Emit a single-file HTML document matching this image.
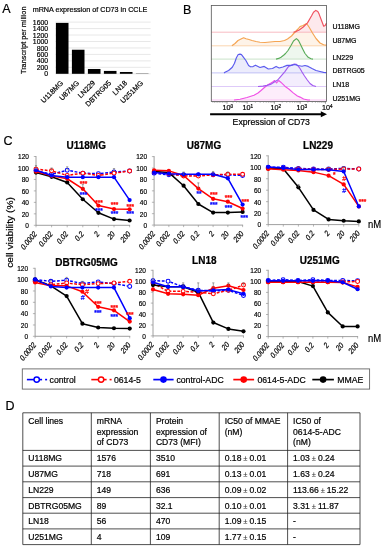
<!DOCTYPE html>
<html><head><meta charset="utf-8"><style>
html,body{margin:0;padding:0;background:#fff;}
svg{display:block;font-family:"Liberation Sans", sans-serif;filter:blur(0.4px);}
text{stroke:#000;stroke-width:0.2px;}
</style></head><body>
<svg width="385" height="550" viewBox="0 0 385 550">
<rect width="385" height="550" fill="#fff"/>
<text x="2.30" y="12.90" font-size="12.5" text-anchor="start" font-weight="normal" fill="#000" >A</text>
<text x="32.70" y="11.60" font-size="7.2" text-anchor="start" font-weight="normal" fill="#000" >mRNA expression of CD73 in CCLE</text>
<text transform="translate(25.70,74.00) rotate(-90)" font-size="7.3" text-anchor="start" fill="#000" font-weight="normal">Transcript per million</text>
<text transform="translate(48.1,76.40) scale(0.93,1)" font-size="7.4" text-anchor="end">0</text>
<line x1="55.40" y1="67.34" x2="150.60" y2="67.34" stroke="#d9d9d9" stroke-width="0.6" />
<text transform="translate(48.1,69.94) scale(0.93,1)" font-size="7.4" text-anchor="end">200</text>
<line x1="55.40" y1="60.88" x2="150.60" y2="60.88" stroke="#d9d9d9" stroke-width="0.6" />
<text transform="translate(48.1,63.48) scale(0.93,1)" font-size="7.4" text-anchor="end">400</text>
<line x1="55.40" y1="54.42" x2="150.60" y2="54.42" stroke="#d9d9d9" stroke-width="0.6" />
<text transform="translate(48.1,57.02) scale(0.93,1)" font-size="7.4" text-anchor="end">600</text>
<line x1="55.40" y1="47.96" x2="150.60" y2="47.96" stroke="#d9d9d9" stroke-width="0.6" />
<text transform="translate(48.1,50.56) scale(0.93,1)" font-size="7.4" text-anchor="end">800</text>
<line x1="55.40" y1="41.50" x2="150.60" y2="41.50" stroke="#d9d9d9" stroke-width="0.6" />
<text transform="translate(48.1,44.10) scale(0.93,1)" font-size="7.4" text-anchor="end">1000</text>
<line x1="55.40" y1="35.04" x2="150.60" y2="35.04" stroke="#d9d9d9" stroke-width="0.6" />
<text transform="translate(48.1,37.64) scale(0.93,1)" font-size="7.4" text-anchor="end">1200</text>
<line x1="55.40" y1="28.58" x2="150.60" y2="28.58" stroke="#d9d9d9" stroke-width="0.6" />
<text transform="translate(48.1,31.18) scale(0.93,1)" font-size="7.4" text-anchor="end">1400</text>
<line x1="55.40" y1="22.12" x2="150.60" y2="22.12" stroke="#d9d9d9" stroke-width="0.6" />
<text transform="translate(48.1,24.72) scale(0.93,1)" font-size="7.4" text-anchor="end">1600</text>
<line x1="55.40" y1="73.80" x2="150.60" y2="73.80" stroke="#d9d9d9" stroke-width="0.6" />
<rect x="55.90" y="22.90" width="12.6" height="50.90" fill="#000"/>
<text transform="translate(63.70,83.50) rotate(-45)" font-size="7.2" text-anchor="end" fill="#000" font-weight="normal">U118MG</text>
<rect x="71.90" y="49.74" width="12.6" height="24.06" fill="#000"/>
<text transform="translate(79.70,83.50) rotate(-45)" font-size="7.2" text-anchor="end" fill="#000" font-weight="normal">U87MG</text>
<rect x="87.90" y="68.99" width="12.6" height="4.81" fill="#000"/>
<text transform="translate(95.70,83.50) rotate(-45)" font-size="7.2" text-anchor="end" fill="#000" font-weight="normal">LN229</text>
<rect x="103.90" y="70.93" width="12.6" height="2.87" fill="#000"/>
<text transform="translate(111.70,83.50) rotate(-45)" font-size="7.2" text-anchor="end" fill="#000" font-weight="normal">DBTRG05</text>
<rect x="119.90" y="71.99" width="12.6" height="1.81" fill="#000"/>
<text transform="translate(127.70,83.50) rotate(-45)" font-size="7.2" text-anchor="end" fill="#000" font-weight="normal">LN18</text>
<rect x="135.90" y="73.20" width="12.6" height="0.60" fill="#888"/>
<text transform="translate(143.70,83.50) rotate(-45)" font-size="7.2" text-anchor="end" fill="#000" font-weight="normal">U251MG</text>
<text x="183.00" y="13.60" font-size="12.5" text-anchor="start" font-weight="normal" fill="#000" >B</text>
<path d="M234.00,100.00 L234.00,100.00 L240.00,99.30 L247.00,97.50 L254.00,95.20 L258.00,93.00 L261.00,90.50 L265.00,87.00 L268.00,84.70 L271.00,83.00 L273.50,81.50 L274.50,80.50 L276.60,83.00 L278.70,80.50 L280.80,82.20 L284.90,86.20 L289.10,89.30 L293.20,92.90 L297.40,96.00 L300.00,97.10 L303.60,99.00 L308.00,100.00 L310.00,100.00 L310.00,100.00 Z" fill="#fdedfb" stroke="none"/>
<path d="M258.00,86.50 L258.00,86.50 L263.00,86.10 L267.00,85.40 L270.50,84.40 L274.00,82.30 L277.70,80.00 L280.80,76.30 L284.90,71.60 L288.60,66.40 L291.20,65.40 L294.30,64.10 L296.40,64.40 L298.40,66.40 L300.00,68.50 L302.00,72.00 L304.50,76.00 L307.30,80.00 L310.00,83.50 L312.70,85.50 L316.00,86.50 L316.00,86.50 Z" fill="#f3edfd" stroke="none"/>
<path d="M224.00,72.90 L224.00,72.90 L225.00,72.30 L228.60,70.50 L232.30,67.30 L234.50,63.20 L236.40,57.70 L238.20,54.50 L240.00,54.10 L241.50,54.60 L243.20,56.80 L245.90,60.50 L248.60,65.50 L250.50,66.80 L253.00,66.60 L255.50,65.20 L257.50,66.20 L260.00,67.50 L264.20,66.40 L268.30,69.00 L272.50,68.50 L276.10,66.40 L279.20,68.00 L282.90,67.00 L287.00,65.40 L291.20,65.40 L294.50,64.50 L298.00,65.50 L302.00,66.20 L305.00,65.50 L308.20,66.40 L312.00,68.50 L316.00,70.50 L320.00,71.50 L323.60,72.40 L326.50,72.60 L326.50,72.90 Z" fill="#ececfc" stroke="none"/>
<path d="M276.00,59.10 L276.00,59.10 L278.70,58.40 L281.00,57.20 L283.90,55.00 L285.50,53.50 L288.00,50.50 L291.00,45.50 L293.50,41.00 L296.40,38.60 L298.50,40.50 L300.50,44.50 L302.70,49.00 L305.00,53.50 L308.20,57.30 L311.00,58.70 L313.00,59.10 L313.00,59.10 Z" fill="#eef7ee" stroke="none"/>
<path d="M231.90,45.80 L231.90,45.80 L235.00,43.50 L238.00,40.50 L241.00,39.00 L243.60,37.80 L246.00,38.80 L249.00,39.50 L252.00,40.50 L256.00,41.50 L260.00,42.20 L265.00,42.50 L270.00,42.00 L275.00,41.50 L280.00,41.50 L284.50,40.50 L287.50,39.00 L291.50,36.00 L295.00,32.00 L298.00,29.00 L300.00,26.60 L303.00,25.50 L306.60,23.50 L309.00,27.00 L312.50,33.00 L316.00,38.50 L320.00,43.00 L323.60,44.80 L326.50,45.30 L326.50,45.80 Z" fill="#fef3e8" stroke="none"/>
<path d="M293.50,32.20 L293.50,32.20 L296.00,31.60 L299.20,30.00 L303.30,27.00 L307.50,22.90 L311.60,15.80 L313.50,12.20 L315.80,10.40 L317.80,11.50 L319.10,14.10 L321.60,20.80 L323.70,26.20 L325.20,25.50 L326.50,23.00 L326.50,32.20 Z" fill="#fde9ec" stroke="none"/>
<line x1="211.3" y1="100.0" x2="326.5" y2="100.0" stroke="#f6b4f0" stroke-width="0.8"/>
<line x1="211.3" y1="86.5" x2="326.5" y2="86.5" stroke="#d6bcf8" stroke-width="0.8"/>
<line x1="211.3" y1="72.9" x2="326.5" y2="72.9" stroke="#b4b4f4" stroke-width="0.8"/>
<line x1="211.3" y1="59.1" x2="326.5" y2="59.1" stroke="#bcdcbc" stroke-width="0.8"/>
<line x1="211.3" y1="45.8" x2="326.5" y2="45.8" stroke="#f9cc9c" stroke-width="0.8"/>
<line x1="211.3" y1="32.2" x2="326.5" y2="32.2" stroke="#f6aab2" stroke-width="0.8"/>
<path d="M234.00,100.00 L240.00,99.30 L247.00,97.50 L254.00,95.20 L258.00,93.00 L261.00,90.50 L265.00,87.00 L268.00,84.70 L271.00,83.00 L273.50,81.50 L274.50,80.50 L276.60,83.00 L278.70,80.50 L280.80,82.20 L284.90,86.20 L289.10,89.30 L293.20,92.90 L297.40,96.00 L300.00,97.10 L303.60,99.00 L308.00,100.00 L310.00,100.00" fill="none" stroke="#f050e6" stroke-width="1.15" stroke-linejoin="round"/>
<path d="M258.00,86.50 L263.00,86.10 L267.00,85.40 L270.50,84.40 L274.00,82.30 L277.70,80.00 L280.80,76.30 L284.90,71.60 L288.60,66.40 L291.20,65.40 L294.30,64.10 L296.40,64.40 L298.40,66.40 L300.00,68.50 L302.00,72.00 L304.50,76.00 L307.30,80.00 L310.00,83.50 L312.70,85.50 L316.00,86.50" fill="none" stroke="#a25af0" stroke-width="1.15" stroke-linejoin="round"/>
<path d="M224.00,72.90 L225.00,72.30 L228.60,70.50 L232.30,67.30 L234.50,63.20 L236.40,57.70 L238.20,54.50 L240.00,54.10 L241.50,54.60 L243.20,56.80 L245.90,60.50 L248.60,65.50 L250.50,66.80 L253.00,66.60 L255.50,65.20 L257.50,66.20 L260.00,67.50 L264.20,66.40 L268.30,69.00 L272.50,68.50 L276.10,66.40 L279.20,68.00 L282.90,67.00 L287.00,65.40 L291.20,65.40 L294.50,64.50 L298.00,65.50 L302.00,66.20 L305.00,65.50 L308.20,66.40 L312.00,68.50 L316.00,70.50 L320.00,71.50 L323.60,72.40 L326.50,72.60" fill="none" stroke="#5a5aee" stroke-width="1.15" stroke-linejoin="round"/>
<path d="M276.00,59.10 L278.70,58.40 L281.00,57.20 L283.90,55.00 L285.50,53.50 L288.00,50.50 L291.00,45.50 L293.50,41.00 L296.40,38.60 L298.50,40.50 L300.50,44.50 L302.70,49.00 L305.00,53.50 L308.20,57.30 L311.00,58.70 L313.00,59.10" fill="none" stroke="#5aac5a" stroke-width="1.15" stroke-linejoin="round"/>
<path d="M231.90,45.80 L235.00,43.50 L238.00,40.50 L241.00,39.00 L243.60,37.80 L246.00,38.80 L249.00,39.50 L252.00,40.50 L256.00,41.50 L260.00,42.20 L265.00,42.50 L270.00,42.00 L275.00,41.50 L280.00,41.50 L284.50,40.50 L287.50,39.00 L291.50,36.00 L295.00,32.00 L298.00,29.00 L300.00,26.60 L303.00,25.50 L306.60,23.50 L309.00,27.00 L312.50,33.00 L316.00,38.50 L320.00,43.00 L323.60,44.80 L326.50,45.30" fill="none" stroke="#f5a452" stroke-width="1.15" stroke-linejoin="round"/>
<path d="M293.50,32.20 L296.00,31.60 L299.20,30.00 L303.30,27.00 L307.50,22.90 L311.60,15.80 L313.50,12.20 L315.80,10.40 L317.80,11.50 L319.10,14.10 L321.60,20.80 L323.70,26.20 L325.20,25.50 L326.50,23.00" fill="none" stroke="#f0505e" stroke-width="1.15" stroke-linejoin="round"/>
<rect x="211.3" y="5.4" width="115.20" height="96.10" fill="none" stroke="#555" stroke-width="0.8"/>
<line x1="227.00" y1="101.50" x2="227.00" y2="103.70" stroke="#555" stroke-width="0.6" />
<line x1="233.08" y1="101.50" x2="233.08" y2="102.80" stroke="#777" stroke-width="0.5" />
<line x1="236.64" y1="101.50" x2="236.64" y2="102.80" stroke="#777" stroke-width="0.5" />
<line x1="239.16" y1="101.50" x2="239.16" y2="102.80" stroke="#777" stroke-width="0.5" />
<line x1="241.12" y1="101.50" x2="241.12" y2="102.80" stroke="#777" stroke-width="0.5" />
<line x1="242.72" y1="101.50" x2="242.72" y2="102.80" stroke="#777" stroke-width="0.5" />
<line x1="244.07" y1="101.50" x2="244.07" y2="102.80" stroke="#777" stroke-width="0.5" />
<line x1="245.24" y1="101.50" x2="245.24" y2="102.80" stroke="#777" stroke-width="0.5" />
<line x1="246.28" y1="101.50" x2="246.28" y2="102.80" stroke="#777" stroke-width="0.5" />
<line x1="247.20" y1="101.50" x2="247.20" y2="103.70" stroke="#555" stroke-width="0.6" />
<line x1="255.39" y1="101.50" x2="255.39" y2="102.80" stroke="#777" stroke-width="0.5" />
<line x1="260.18" y1="101.50" x2="260.18" y2="102.80" stroke="#777" stroke-width="0.5" />
<line x1="263.58" y1="101.50" x2="263.58" y2="102.80" stroke="#777" stroke-width="0.5" />
<line x1="266.21" y1="101.50" x2="266.21" y2="102.80" stroke="#777" stroke-width="0.5" />
<line x1="268.37" y1="101.50" x2="268.37" y2="102.80" stroke="#777" stroke-width="0.5" />
<line x1="270.19" y1="101.50" x2="270.19" y2="102.80" stroke="#777" stroke-width="0.5" />
<line x1="271.76" y1="101.50" x2="271.76" y2="102.80" stroke="#777" stroke-width="0.5" />
<line x1="273.16" y1="101.50" x2="273.16" y2="102.80" stroke="#777" stroke-width="0.5" />
<line x1="274.40" y1="101.50" x2="274.40" y2="103.70" stroke="#555" stroke-width="0.6" />
<line x1="282.17" y1="101.50" x2="282.17" y2="102.80" stroke="#777" stroke-width="0.5" />
<line x1="286.71" y1="101.50" x2="286.71" y2="102.80" stroke="#777" stroke-width="0.5" />
<line x1="289.93" y1="101.50" x2="289.93" y2="102.80" stroke="#777" stroke-width="0.5" />
<line x1="292.43" y1="101.50" x2="292.43" y2="102.80" stroke="#777" stroke-width="0.5" />
<line x1="294.48" y1="101.50" x2="294.48" y2="102.80" stroke="#777" stroke-width="0.5" />
<line x1="296.20" y1="101.50" x2="296.20" y2="102.80" stroke="#777" stroke-width="0.5" />
<line x1="297.70" y1="101.50" x2="297.70" y2="102.80" stroke="#777" stroke-width="0.5" />
<line x1="299.02" y1="101.50" x2="299.02" y2="102.80" stroke="#777" stroke-width="0.5" />
<line x1="300.20" y1="101.50" x2="300.20" y2="103.70" stroke="#555" stroke-width="0.6" />
<line x1="307.82" y1="101.50" x2="307.82" y2="102.80" stroke="#777" stroke-width="0.5" />
<line x1="312.27" y1="101.50" x2="312.27" y2="102.80" stroke="#777" stroke-width="0.5" />
<line x1="315.43" y1="101.50" x2="315.43" y2="102.80" stroke="#777" stroke-width="0.5" />
<line x1="317.88" y1="101.50" x2="317.88" y2="102.80" stroke="#777" stroke-width="0.5" />
<line x1="319.89" y1="101.50" x2="319.89" y2="102.80" stroke="#777" stroke-width="0.5" />
<line x1="321.58" y1="101.50" x2="321.58" y2="102.80" stroke="#777" stroke-width="0.5" />
<line x1="323.05" y1="101.50" x2="323.05" y2="102.80" stroke="#777" stroke-width="0.5" />
<line x1="324.34" y1="101.50" x2="324.34" y2="102.80" stroke="#777" stroke-width="0.5" />
<line x1="325.50" y1="101.50" x2="325.50" y2="103.70" stroke="#555" stroke-width="0.6" />
<line x1="212.90" y1="101.50" x2="212.90" y2="102.80" stroke="#777" stroke-width="0.5" />
<line x1="214.50" y1="101.50" x2="214.50" y2="102.80" stroke="#777" stroke-width="0.5" />
<line x1="216.10" y1="101.50" x2="216.10" y2="102.80" stroke="#777" stroke-width="0.5" />
<line x1="217.70" y1="101.50" x2="217.70" y2="102.80" stroke="#777" stroke-width="0.5" />
<line x1="219.30" y1="101.50" x2="219.30" y2="102.80" stroke="#777" stroke-width="0.5" />
<line x1="220.90" y1="101.50" x2="220.90" y2="102.80" stroke="#777" stroke-width="0.5" />
<line x1="222.50" y1="101.50" x2="222.50" y2="102.80" stroke="#777" stroke-width="0.5" />
<line x1="224.10" y1="101.50" x2="224.10" y2="102.80" stroke="#777" stroke-width="0.5" />
<line x1="225.70" y1="101.50" x2="225.70" y2="102.80" stroke="#777" stroke-width="0.5" />
<text x="222.60" y="110.4" font-size="7.2">10<tspan font-size="4.6" dy="-2.6">0</tspan></text>
<text x="242.40" y="110.4" font-size="7.2">10<tspan font-size="4.6" dy="-2.6">1</tspan></text>
<text x="270.40" y="110.4" font-size="7.2">10<tspan font-size="4.6" dy="-2.6">2</tspan></text>
<text x="296.40" y="110.4" font-size="7.2">10<tspan font-size="4.6" dy="-2.6">3</tspan></text>
<text x="322.00" y="110.4" font-size="7.2">10<tspan font-size="4.6" dy="-2.6">4</tspan></text>
<line x1="210.10" y1="114.30" x2="322.00" y2="114.30" stroke="#000" stroke-width="2.1" />
<path d="M320.8,111.3 L327.0,114.3 L320.8,117.3 Z" fill="#000"/>
<text x="232.60" y="124.60" font-size="8.7" text-anchor="start" font-weight="normal" fill="#000" >Expression of CD73</text>
<text x="332.40" y="28.90" font-size="7.0" text-anchor="start" font-weight="normal" fill="#000" >U118MG</text>
<text x="332.40" y="43.40" font-size="7.0" text-anchor="start" font-weight="normal" fill="#000" >U87MG</text>
<text x="332.40" y="59.80" font-size="7.0" text-anchor="start" font-weight="normal" fill="#000" >LN229</text>
<text x="332.40" y="72.50" font-size="7.0" text-anchor="start" font-weight="normal" fill="#000" >DBTRG05</text>
<text x="332.40" y="86.70" font-size="7.0" text-anchor="start" font-weight="normal" fill="#000" >LN18</text>
<text x="332.40" y="101.00" font-size="7.0" text-anchor="start" font-weight="normal" fill="#000" >U251MG</text>
<text x="3.50" y="144.50" font-size="12.5" text-anchor="start" font-weight="normal" fill="#000" >C</text>
<text transform="translate(12.5,267.8) rotate(-90) scale(1.07,1)" font-size="9.6">cell viability (%)</text>
<text transform="translate(86.20,149.20) scale(1.04,1.2)" font-size="9.6" text-anchor="middle" font-weight="bold">U118MG</text>
<line x1="36.00" y1="156.00" x2="36.00" y2="225.30" stroke="#888888" stroke-width="0.8" />
<line x1="33.80" y1="225.30" x2="36.00" y2="225.30" stroke="#888888" stroke-width="0.6" />
<text transform="translate(29.00,228.15) scale(0.82,1)" font-size="8.0" text-anchor="end">0</text>
<line x1="33.80" y1="213.83" x2="36.00" y2="213.83" stroke="#888888" stroke-width="0.6" />
<text transform="translate(29.00,216.68) scale(0.82,1)" font-size="8.0" text-anchor="end">20</text>
<line x1="33.80" y1="202.37" x2="36.00" y2="202.37" stroke="#888888" stroke-width="0.6" />
<text transform="translate(29.00,205.22) scale(0.82,1)" font-size="8.0" text-anchor="end">40</text>
<line x1="33.80" y1="190.90" x2="36.00" y2="190.90" stroke="#888888" stroke-width="0.6" />
<text transform="translate(29.00,193.75) scale(0.82,1)" font-size="8.0" text-anchor="end">60</text>
<line x1="33.80" y1="179.43" x2="36.00" y2="179.43" stroke="#888888" stroke-width="0.6" />
<text transform="translate(29.00,182.28) scale(0.82,1)" font-size="8.0" text-anchor="end">80</text>
<line x1="33.80" y1="167.97" x2="36.00" y2="167.97" stroke="#888888" stroke-width="0.6" />
<text transform="translate(29.00,170.82) scale(0.82,1)" font-size="8.0" text-anchor="end">100</text>
<line x1="33.80" y1="156.50" x2="36.00" y2="156.50" stroke="#888888" stroke-width="0.6" />
<text transform="translate(29.00,159.35) scale(0.82,1)" font-size="8.0" text-anchor="end">120</text>
<line x1="36.00" y1="225.30" x2="130.10" y2="225.30" stroke="#888888" stroke-width="0.8" />
<line x1="36.00" y1="225.30" x2="36.00" y2="227.30" stroke="#888888" stroke-width="0.6" />
<text transform="translate(37.30,234.50) scale(1,1.19) rotate(-45) scale(0.85,1)" font-size="7.3" text-anchor="end">0.0002</text>
<line x1="51.60" y1="225.30" x2="51.60" y2="227.30" stroke="#888888" stroke-width="0.6" />
<text transform="translate(52.90,234.50) scale(1,1.19) rotate(-45) scale(0.85,1)" font-size="7.3" text-anchor="end">0.002</text>
<line x1="67.20" y1="225.30" x2="67.20" y2="227.30" stroke="#888888" stroke-width="0.6" />
<text transform="translate(68.50,234.50) scale(1,1.19) rotate(-45) scale(0.85,1)" font-size="7.3" text-anchor="end">0.02</text>
<line x1="82.80" y1="225.30" x2="82.80" y2="227.30" stroke="#888888" stroke-width="0.6" />
<text transform="translate(84.10,234.50) scale(1,1.19) rotate(-45) scale(0.85,1)" font-size="7.3" text-anchor="end">0.2</text>
<line x1="98.40" y1="225.30" x2="98.40" y2="227.30" stroke="#888888" stroke-width="0.6" />
<text transform="translate(99.70,234.50) scale(1,1.19) rotate(-45) scale(0.85,1)" font-size="7.3" text-anchor="end">2</text>
<line x1="114.00" y1="225.30" x2="114.00" y2="227.30" stroke="#888888" stroke-width="0.6" />
<text transform="translate(115.30,234.50) scale(1,1.19) rotate(-45) scale(0.85,1)" font-size="7.3" text-anchor="end">20</text>
<line x1="129.60" y1="225.30" x2="129.60" y2="227.30" stroke="#888888" stroke-width="0.6" />
<text transform="translate(130.90,234.50) scale(1,1.19) rotate(-45) scale(0.85,1)" font-size="7.3" text-anchor="end">200</text>
<polyline points="36.00,170.83 51.60,174.27 67.20,170.26 82.80,173.13 98.40,173.70 114.00,171.98 129.60,171.06" fill="none" stroke="#0000ff" stroke-width="1.5" stroke-linejoin="round" stroke-dasharray="2.8,1.6"/>
<circle cx="36.00" cy="170.83" r="1.95" fill="#fff" stroke="#0000ff" stroke-width="1.05"/>
<circle cx="51.60" cy="174.27" r="1.95" fill="#fff" stroke="#0000ff" stroke-width="1.05"/>
<circle cx="67.20" cy="170.26" r="1.95" fill="#fff" stroke="#0000ff" stroke-width="1.05"/>
<circle cx="82.80" cy="173.13" r="1.95" fill="#fff" stroke="#0000ff" stroke-width="1.05"/>
<circle cx="98.40" cy="173.70" r="1.95" fill="#fff" stroke="#0000ff" stroke-width="1.05"/>
<circle cx="114.00" cy="171.98" r="1.95" fill="#fff" stroke="#0000ff" stroke-width="1.05"/>
<circle cx="129.60" cy="171.06" r="1.95" fill="#fff" stroke="#0000ff" stroke-width="1.05"/>
<polyline points="36.00,169.11 51.60,170.83 67.20,175.42 82.80,173.13 98.40,175.42 114.00,173.13 129.60,171.06" fill="none" stroke="#ff0000" stroke-width="1.5" stroke-linejoin="round" stroke-dasharray="2.8,1.6"/>
<circle cx="36.00" cy="169.11" r="1.95" fill="#fff" stroke="#ff0000" stroke-width="1.05"/>
<circle cx="51.60" cy="170.83" r="1.95" fill="#fff" stroke="#ff0000" stroke-width="1.05"/>
<circle cx="67.20" cy="175.42" r="1.95" fill="#fff" stroke="#ff0000" stroke-width="1.05"/>
<circle cx="82.80" cy="173.13" r="1.95" fill="#fff" stroke="#ff0000" stroke-width="1.05"/>
<circle cx="98.40" cy="175.42" r="1.95" fill="#fff" stroke="#ff0000" stroke-width="1.05"/>
<circle cx="114.00" cy="173.13" r="1.95" fill="#fff" stroke="#ff0000" stroke-width="1.05"/>
<circle cx="129.60" cy="171.06" r="1.95" fill="#fff" stroke="#ff0000" stroke-width="1.05"/>
<polyline points="36.00,172.55 51.60,176.80 67.20,182.47 82.80,199.27 98.40,212.80 114.00,219.11 129.60,220.48" fill="none" stroke="#000000" stroke-width="1.5" stroke-linejoin="round" />
<circle cx="36.00" cy="172.55" r="2.1" fill="#000000"/>
<circle cx="51.60" cy="176.80" r="2.1" fill="#000000"/>
<circle cx="67.20" cy="182.47" r="2.1" fill="#000000"/>
<circle cx="82.80" cy="199.27" r="2.1" fill="#000000"/>
<circle cx="98.40" cy="212.80" r="2.1" fill="#000000"/>
<circle cx="114.00" cy="219.11" r="2.1" fill="#000000"/>
<circle cx="129.60" cy="220.48" r="2.1" fill="#000000"/>
<polyline points="36.00,171.58 51.60,175.88 67.20,178.75 82.80,188.78 98.40,205.58 114.00,209.07 129.60,209.30" fill="none" stroke="#ff0000" stroke-width="1.5" stroke-linejoin="round" />
<circle cx="36.00" cy="171.58" r="2.1" fill="#ff0000"/>
<circle cx="51.60" cy="175.88" r="2.1" fill="#ff0000"/>
<circle cx="67.20" cy="178.75" r="2.1" fill="#ff0000"/>
<circle cx="82.80" cy="188.78" r="2.1" fill="#ff0000"/>
<circle cx="98.40" cy="205.58" r="2.1" fill="#ff0000"/>
<circle cx="114.00" cy="209.07" r="2.1" fill="#ff0000"/>
<circle cx="129.60" cy="209.30" r="2.1" fill="#ff0000"/>
<polyline points="36.00,170.26 51.60,175.42 67.20,177.14 82.80,177.14 98.40,177.14 114.00,177.14 129.60,200.07" fill="none" stroke="#0000ff" stroke-width="1.5" stroke-linejoin="round" />
<circle cx="36.00" cy="170.26" r="2.1" fill="#0000ff"/>
<circle cx="51.60" cy="175.42" r="2.1" fill="#0000ff"/>
<circle cx="67.20" cy="177.14" r="2.1" fill="#0000ff"/>
<circle cx="82.80" cy="177.14" r="2.1" fill="#0000ff"/>
<circle cx="98.40" cy="177.14" r="2.1" fill="#0000ff"/>
<circle cx="114.00" cy="177.14" r="2.1" fill="#0000ff"/>
<circle cx="129.60" cy="200.07" r="2.1" fill="#0000ff"/>
<line x1="36.00" y1="165.67" x2="36.00" y2="170.26" stroke="#666" stroke-width="0.6" />
<line x1="34.90" y1="165.67" x2="37.10" y2="165.67" stroke="#666" stroke-width="0.6" />
<line x1="51.60" y1="167.97" x2="51.60" y2="170.83" stroke="#666" stroke-width="0.6" />
<line x1="50.50" y1="167.97" x2="52.70" y2="167.97" stroke="#666" stroke-width="0.6" />
<line x1="67.20" y1="166.82" x2="67.20" y2="170.26" stroke="#666" stroke-width="0.6" />
<line x1="66.10" y1="166.82" x2="68.30" y2="166.82" stroke="#666" stroke-width="0.6" />
<line x1="82.80" y1="184.59" x2="82.80" y2="188.61" stroke="#666" stroke-width="0.6" />
<line x1="81.70" y1="184.59" x2="83.90" y2="184.59" stroke="#666" stroke-width="0.6" />
<line x1="114.00" y1="168.54" x2="114.00" y2="171.98" stroke="#666" stroke-width="0.6" />
<line x1="112.90" y1="168.54" x2="115.10" y2="168.54" stroke="#666" stroke-width="0.6" />
<text x="83.40" y="185.86" font-size="6.4" text-anchor="middle" font-weight="bold" fill="#ff0000" style="stroke:#ff0000" >***</text>
<text x="83.40" y="196.99" font-size="6.4" text-anchor="middle" font-weight="bold" fill="#0000ff" style="stroke:#0000ff" >***</text>
<text x="99.00" y="204.78" font-size="6.4" text-anchor="middle" font-weight="bold" fill="#ff0000" style="stroke:#ff0000" >***</text>
<text x="99.00" y="213.04" font-size="6.4" text-anchor="middle" font-weight="bold" fill="#0000ff" style="stroke:#0000ff" >***</text>
<text x="114.60" y="207.31" font-size="6.4" text-anchor="middle" font-weight="bold" fill="#ff0000" style="stroke:#ff0000" >***</text>
<text x="114.60" y="216.48" font-size="6.4" text-anchor="middle" font-weight="bold" fill="#0000ff" style="stroke:#0000ff" >***</text>
<text x="130.20" y="209.03" font-size="6.4" text-anchor="middle" font-weight="bold" fill="#ff0000" style="stroke:#ff0000" >***</text>
<text x="130.20" y="216.48" font-size="6.4" text-anchor="middle" font-weight="bold" fill="#0000ff" style="stroke:#0000ff" >***</text>
<text transform="translate(204.00,149.30) scale(1.04,1.2)" font-size="9.6" text-anchor="middle" font-weight="bold">U87MG</text>
<line x1="154.10" y1="156.10" x2="154.10" y2="225.10" stroke="#888888" stroke-width="0.8" />
<line x1="151.90" y1="225.10" x2="154.10" y2="225.10" stroke="#888888" stroke-width="0.6" />
<text transform="translate(147.10,227.95) scale(0.82,1)" font-size="8.0" text-anchor="end">0</text>
<line x1="151.90" y1="213.68" x2="154.10" y2="213.68" stroke="#888888" stroke-width="0.6" />
<text transform="translate(147.10,216.53) scale(0.82,1)" font-size="8.0" text-anchor="end">20</text>
<line x1="151.90" y1="202.27" x2="154.10" y2="202.27" stroke="#888888" stroke-width="0.6" />
<text transform="translate(147.10,205.12) scale(0.82,1)" font-size="8.0" text-anchor="end">40</text>
<line x1="151.90" y1="190.85" x2="154.10" y2="190.85" stroke="#888888" stroke-width="0.6" />
<text transform="translate(147.10,193.70) scale(0.82,1)" font-size="8.0" text-anchor="end">60</text>
<line x1="151.90" y1="179.43" x2="154.10" y2="179.43" stroke="#888888" stroke-width="0.6" />
<text transform="translate(147.10,182.28) scale(0.82,1)" font-size="8.0" text-anchor="end">80</text>
<line x1="151.90" y1="168.02" x2="154.10" y2="168.02" stroke="#888888" stroke-width="0.6" />
<text transform="translate(147.10,170.87) scale(0.82,1)" font-size="8.0" text-anchor="end">100</text>
<line x1="151.90" y1="156.60" x2="154.10" y2="156.60" stroke="#888888" stroke-width="0.6" />
<text transform="translate(147.10,159.45) scale(0.82,1)" font-size="8.0" text-anchor="end">120</text>
<line x1="154.10" y1="225.10" x2="243.10" y2="225.10" stroke="#888888" stroke-width="0.8" />
<line x1="154.10" y1="225.10" x2="154.10" y2="227.10" stroke="#888888" stroke-width="0.6" />
<text transform="translate(155.40,234.30) scale(1,1.19) rotate(-45) scale(0.85,1)" font-size="7.3" text-anchor="end">0.0002</text>
<line x1="168.85" y1="225.10" x2="168.85" y2="227.10" stroke="#888888" stroke-width="0.6" />
<text transform="translate(170.15,234.30) scale(1,1.19) rotate(-45) scale(0.85,1)" font-size="7.3" text-anchor="end">0.002</text>
<line x1="183.60" y1="225.10" x2="183.60" y2="227.10" stroke="#888888" stroke-width="0.6" />
<text transform="translate(184.90,234.30) scale(1,1.19) rotate(-45) scale(0.85,1)" font-size="7.3" text-anchor="end">0.02</text>
<line x1="198.35" y1="225.10" x2="198.35" y2="227.10" stroke="#888888" stroke-width="0.6" />
<text transform="translate(199.65,234.30) scale(1,1.19) rotate(-45) scale(0.85,1)" font-size="7.3" text-anchor="end">0.2</text>
<line x1="213.10" y1="225.10" x2="213.10" y2="227.10" stroke="#888888" stroke-width="0.6" />
<text transform="translate(214.40,234.30) scale(1,1.19) rotate(-45) scale(0.85,1)" font-size="7.3" text-anchor="end">2</text>
<line x1="227.85" y1="225.10" x2="227.85" y2="227.10" stroke="#888888" stroke-width="0.6" />
<text transform="translate(229.15,234.30) scale(1,1.19) rotate(-45) scale(0.85,1)" font-size="7.3" text-anchor="end">20</text>
<line x1="242.60" y1="225.10" x2="242.60" y2="227.10" stroke="#888888" stroke-width="0.6" />
<text transform="translate(243.90,234.30) scale(1,1.19) rotate(-45) scale(0.85,1)" font-size="7.3" text-anchor="end">200</text>
<polyline points="154.10,173.15 168.85,174.87 183.60,174.87 198.35,174.87 213.10,174.87 227.85,174.87 242.60,175.44" fill="none" stroke="#0000ff" stroke-width="1.5" stroke-linejoin="round" stroke-dasharray="2.8,1.6"/>
<circle cx="154.10" cy="173.15" r="1.95" fill="#fff" stroke="#0000ff" stroke-width="1.05"/>
<circle cx="168.85" cy="174.87" r="1.95" fill="#fff" stroke="#0000ff" stroke-width="1.05"/>
<circle cx="183.60" cy="174.87" r="1.95" fill="#fff" stroke="#0000ff" stroke-width="1.05"/>
<circle cx="198.35" cy="174.87" r="1.95" fill="#fff" stroke="#0000ff" stroke-width="1.05"/>
<circle cx="213.10" cy="174.87" r="1.95" fill="#fff" stroke="#0000ff" stroke-width="1.05"/>
<circle cx="227.85" cy="174.87" r="1.95" fill="#fff" stroke="#0000ff" stroke-width="1.05"/>
<circle cx="242.60" cy="175.44" r="1.95" fill="#fff" stroke="#0000ff" stroke-width="1.05"/>
<polyline points="154.10,172.01 168.85,173.72 183.60,176.01 198.35,176.01 213.10,174.87 227.85,174.30 242.60,174.30" fill="none" stroke="#ff0000" stroke-width="1.5" stroke-linejoin="round" stroke-dasharray="2.8,1.6"/>
<circle cx="154.10" cy="172.01" r="1.95" fill="#fff" stroke="#ff0000" stroke-width="1.05"/>
<circle cx="168.85" cy="173.72" r="1.95" fill="#fff" stroke="#ff0000" stroke-width="1.05"/>
<circle cx="183.60" cy="176.01" r="1.95" fill="#fff" stroke="#ff0000" stroke-width="1.05"/>
<circle cx="198.35" cy="176.01" r="1.95" fill="#fff" stroke="#ff0000" stroke-width="1.05"/>
<circle cx="213.10" cy="174.87" r="1.95" fill="#fff" stroke="#ff0000" stroke-width="1.05"/>
<circle cx="227.85" cy="174.30" r="1.95" fill="#fff" stroke="#ff0000" stroke-width="1.05"/>
<circle cx="242.60" cy="174.30" r="1.95" fill="#fff" stroke="#ff0000" stroke-width="1.05"/>
<polyline points="154.10,171.44 168.85,172.58 183.60,185.71 198.35,203.98 213.10,212.54 227.85,212.54 242.60,211.97" fill="none" stroke="#000000" stroke-width="1.5" stroke-linejoin="round" />
<circle cx="154.10" cy="171.44" r="2.1" fill="#000000"/>
<circle cx="168.85" cy="172.58" r="2.1" fill="#000000"/>
<circle cx="183.60" cy="185.71" r="2.1" fill="#000000"/>
<circle cx="198.35" cy="203.98" r="2.1" fill="#000000"/>
<circle cx="213.10" cy="212.54" r="2.1" fill="#000000"/>
<circle cx="227.85" cy="212.54" r="2.1" fill="#000000"/>
<circle cx="242.60" cy="211.97" r="2.1" fill="#000000"/>
<polyline points="154.10,170.30 168.85,170.87 183.60,175.44 198.35,188.57 213.10,198.84 227.85,201.70 242.60,208.55" fill="none" stroke="#ff0000" stroke-width="1.5" stroke-linejoin="round" />
<circle cx="154.10" cy="170.30" r="2.1" fill="#ff0000"/>
<circle cx="168.85" cy="170.87" r="2.1" fill="#ff0000"/>
<circle cx="183.60" cy="175.44" r="2.1" fill="#ff0000"/>
<circle cx="198.35" cy="188.57" r="2.1" fill="#ff0000"/>
<circle cx="213.10" cy="198.84" r="2.1" fill="#ff0000"/>
<circle cx="227.85" cy="201.70" r="2.1" fill="#ff0000"/>
<circle cx="242.60" cy="208.55" r="2.1" fill="#ff0000"/>
<polyline points="154.10,172.58 168.85,173.72 183.60,174.30 198.35,174.30 213.10,174.30 227.85,178.29 242.60,204.55" fill="none" stroke="#0000ff" stroke-width="1.5" stroke-linejoin="round" />
<circle cx="154.10" cy="172.58" r="2.1" fill="#0000ff"/>
<circle cx="168.85" cy="173.72" r="2.1" fill="#0000ff"/>
<circle cx="183.60" cy="174.30" r="2.1" fill="#0000ff"/>
<circle cx="198.35" cy="174.30" r="2.1" fill="#0000ff"/>
<circle cx="213.10" cy="174.30" r="2.1" fill="#0000ff"/>
<circle cx="227.85" cy="178.29" r="2.1" fill="#0000ff"/>
<circle cx="242.60" cy="204.55" r="2.1" fill="#0000ff"/>
<line x1="183.60" y1="172.01" x2="183.60" y2="174.87" stroke="#666" stroke-width="0.6" />
<line x1="182.50" y1="172.01" x2="184.70" y2="172.01" stroke="#666" stroke-width="0.6" />
<line x1="198.35" y1="182.86" x2="198.35" y2="188.57" stroke="#666" stroke-width="0.6" />
<line x1="197.25" y1="182.86" x2="199.45" y2="182.86" stroke="#666" stroke-width="0.6" />
<line x1="213.10" y1="171.44" x2="213.10" y2="174.30" stroke="#666" stroke-width="0.6" />
<line x1="212.00" y1="171.44" x2="214.20" y2="171.44" stroke="#666" stroke-width="0.6" />
<line x1="227.85" y1="172.01" x2="227.85" y2="174.30" stroke="#666" stroke-width="0.6" />
<line x1="226.75" y1="172.01" x2="228.95" y2="172.01" stroke="#666" stroke-width="0.6" />
<text x="198.95" y="195.78" font-size="6.4" text-anchor="middle" font-weight="bold" fill="#0000ff" style="stroke:#0000ff" >**</text>
<text x="213.70" y="196.92" font-size="6.4" text-anchor="middle" font-weight="bold" fill="#ff0000" style="stroke:#ff0000" >***</text>
<text x="213.70" y="207.31" font-size="6.4" text-anchor="middle" font-weight="bold" fill="#0000ff" style="stroke:#0000ff" >***</text>
<text x="228.45" y="199.77" font-size="6.4" text-anchor="middle" font-weight="bold" fill="#ff0000" style="stroke:#ff0000" >***</text>
<text x="228.45" y="209.82" font-size="6.4" text-anchor="middle" font-weight="bold" fill="#0000ff" style="stroke:#0000ff" >***</text>
<text x="245.20" y="204.00" font-size="6.4" text-anchor="middle" font-weight="bold" fill="#ff0000" style="stroke:#ff0000" >***</text>
<text x="244.20" y="220.32" font-size="6.4" text-anchor="middle" font-weight="bold" fill="#0000ff" style="stroke:#0000ff" >***</text>
<text transform="translate(318.00,148.70) scale(1.04,1.2)" font-size="9.6" text-anchor="middle" font-weight="bold">LN229</text>
<line x1="268.20" y1="155.30" x2="268.20" y2="224.60" stroke="#888888" stroke-width="0.8" />
<line x1="266.00" y1="224.60" x2="268.20" y2="224.60" stroke="#888888" stroke-width="0.6" />
<text transform="translate(261.20,227.45) scale(0.82,1)" font-size="8.0" text-anchor="end">0</text>
<line x1="266.00" y1="213.13" x2="268.20" y2="213.13" stroke="#888888" stroke-width="0.6" />
<text transform="translate(261.20,215.98) scale(0.82,1)" font-size="8.0" text-anchor="end">20</text>
<line x1="266.00" y1="201.67" x2="268.20" y2="201.67" stroke="#888888" stroke-width="0.6" />
<text transform="translate(261.20,204.52) scale(0.82,1)" font-size="8.0" text-anchor="end">40</text>
<line x1="266.00" y1="190.20" x2="268.20" y2="190.20" stroke="#888888" stroke-width="0.6" />
<text transform="translate(261.20,193.05) scale(0.82,1)" font-size="8.0" text-anchor="end">60</text>
<line x1="266.00" y1="178.73" x2="268.20" y2="178.73" stroke="#888888" stroke-width="0.6" />
<text transform="translate(261.20,181.58) scale(0.82,1)" font-size="8.0" text-anchor="end">80</text>
<line x1="266.00" y1="167.27" x2="268.20" y2="167.27" stroke="#888888" stroke-width="0.6" />
<text transform="translate(261.20,170.12) scale(0.82,1)" font-size="8.0" text-anchor="end">100</text>
<line x1="266.00" y1="155.80" x2="268.20" y2="155.80" stroke="#888888" stroke-width="0.6" />
<text transform="translate(261.20,158.65) scale(0.82,1)" font-size="8.0" text-anchor="end">120</text>
<line x1="268.20" y1="224.60" x2="359.30" y2="224.60" stroke="#888888" stroke-width="0.8" />
<line x1="268.20" y1="224.60" x2="268.20" y2="226.60" stroke="#888888" stroke-width="0.6" />
<text transform="translate(269.50,233.80) scale(1,1.19) rotate(-45) scale(0.85,1)" font-size="7.3" text-anchor="end">0.0002</text>
<line x1="283.30" y1="224.60" x2="283.30" y2="226.60" stroke="#888888" stroke-width="0.6" />
<text transform="translate(284.60,233.80) scale(1,1.19) rotate(-45) scale(0.85,1)" font-size="7.3" text-anchor="end">0.002</text>
<line x1="298.40" y1="224.60" x2="298.40" y2="226.60" stroke="#888888" stroke-width="0.6" />
<text transform="translate(299.70,233.80) scale(1,1.19) rotate(-45) scale(0.85,1)" font-size="7.3" text-anchor="end">0.02</text>
<line x1="313.50" y1="224.60" x2="313.50" y2="226.60" stroke="#888888" stroke-width="0.6" />
<text transform="translate(314.80,233.80) scale(1,1.19) rotate(-45) scale(0.85,1)" font-size="7.3" text-anchor="end">0.2</text>
<line x1="328.60" y1="224.60" x2="328.60" y2="226.60" stroke="#888888" stroke-width="0.6" />
<text transform="translate(329.90,233.80) scale(1,1.19) rotate(-45) scale(0.85,1)" font-size="7.3" text-anchor="end">2</text>
<line x1="343.70" y1="224.60" x2="343.70" y2="226.60" stroke="#888888" stroke-width="0.6" />
<text transform="translate(345.00,233.80) scale(1,1.19) rotate(-45) scale(0.85,1)" font-size="7.3" text-anchor="end">20</text>
<line x1="358.80" y1="224.60" x2="358.80" y2="226.60" stroke="#888888" stroke-width="0.6" />
<text transform="translate(360.10,233.80) scale(1,1.19) rotate(-45) scale(0.85,1)" font-size="7.3" text-anchor="end">200</text>
<polyline points="268.20,167.27 283.30,167.27 298.40,168.41 313.50,168.99 328.60,168.99 343.70,168.41 358.80,168.99" fill="none" stroke="#0000ff" stroke-width="1.5" stroke-linejoin="round" stroke-dasharray="2.8,1.6"/>
<circle cx="268.20" cy="167.27" r="1.95" fill="#fff" stroke="#0000ff" stroke-width="1.05"/>
<circle cx="283.30" cy="167.27" r="1.95" fill="#fff" stroke="#0000ff" stroke-width="1.05"/>
<circle cx="298.40" cy="168.41" r="1.95" fill="#fff" stroke="#0000ff" stroke-width="1.05"/>
<circle cx="313.50" cy="168.99" r="1.95" fill="#fff" stroke="#0000ff" stroke-width="1.05"/>
<circle cx="328.60" cy="168.99" r="1.95" fill="#fff" stroke="#0000ff" stroke-width="1.05"/>
<circle cx="343.70" cy="168.41" r="1.95" fill="#fff" stroke="#0000ff" stroke-width="1.05"/>
<circle cx="358.80" cy="168.99" r="1.95" fill="#fff" stroke="#0000ff" stroke-width="1.05"/>
<polyline points="268.20,168.41 283.30,168.41 298.40,168.99 313.50,169.56 328.60,169.56 343.70,168.99 358.80,168.99" fill="none" stroke="#ff0000" stroke-width="1.5" stroke-linejoin="round" stroke-dasharray="2.8,1.6"/>
<circle cx="268.20" cy="168.41" r="1.95" fill="#fff" stroke="#ff0000" stroke-width="1.05"/>
<circle cx="283.30" cy="168.41" r="1.95" fill="#fff" stroke="#ff0000" stroke-width="1.05"/>
<circle cx="298.40" cy="168.99" r="1.95" fill="#fff" stroke="#ff0000" stroke-width="1.05"/>
<circle cx="313.50" cy="169.56" r="1.95" fill="#fff" stroke="#ff0000" stroke-width="1.05"/>
<circle cx="328.60" cy="169.56" r="1.95" fill="#fff" stroke="#ff0000" stroke-width="1.05"/>
<circle cx="343.70" cy="168.99" r="1.95" fill="#fff" stroke="#ff0000" stroke-width="1.05"/>
<circle cx="358.80" cy="168.99" r="1.95" fill="#fff" stroke="#ff0000" stroke-width="1.05"/>
<polyline points="268.20,168.13 283.30,168.81 298.40,187.33 313.50,209.92 328.60,219.44 343.70,220.76 358.80,221.45" fill="none" stroke="#000000" stroke-width="1.5" stroke-linejoin="round" />
<circle cx="268.20" cy="168.13" r="2.1" fill="#000000"/>
<circle cx="283.30" cy="168.81" r="2.1" fill="#000000"/>
<circle cx="298.40" cy="187.33" r="2.1" fill="#000000"/>
<circle cx="313.50" cy="209.92" r="2.1" fill="#000000"/>
<circle cx="328.60" cy="219.44" r="2.1" fill="#000000"/>
<circle cx="343.70" cy="220.76" r="2.1" fill="#000000"/>
<circle cx="358.80" cy="221.45" r="2.1" fill="#000000"/>
<polyline points="268.20,168.64 283.30,169.73 298.40,170.42 313.50,172.14 328.60,175.64 343.70,184.41 358.80,206.43" fill="none" stroke="#ff0000" stroke-width="1.5" stroke-linejoin="round" />
<circle cx="268.20" cy="168.64" r="2.1" fill="#ff0000"/>
<circle cx="283.30" cy="169.73" r="2.1" fill="#ff0000"/>
<circle cx="298.40" cy="170.42" r="2.1" fill="#ff0000"/>
<circle cx="313.50" cy="172.14" r="2.1" fill="#ff0000"/>
<circle cx="328.60" cy="175.64" r="2.1" fill="#ff0000"/>
<circle cx="343.70" cy="184.41" r="2.1" fill="#ff0000"/>
<circle cx="358.80" cy="206.43" r="2.1" fill="#ff0000"/>
<polyline points="268.20,166.98 283.30,167.95 298.40,169.39 313.50,169.39 328.60,169.73 343.70,171.45 358.80,206.43" fill="none" stroke="#0000ff" stroke-width="1.5" stroke-linejoin="round" />
<circle cx="268.20" cy="166.98" r="2.1" fill="#0000ff"/>
<circle cx="283.30" cy="167.95" r="2.1" fill="#0000ff"/>
<circle cx="298.40" cy="169.39" r="2.1" fill="#0000ff"/>
<circle cx="313.50" cy="169.39" r="2.1" fill="#0000ff"/>
<circle cx="328.60" cy="169.73" r="2.1" fill="#0000ff"/>
<circle cx="343.70" cy="171.45" r="2.1" fill="#0000ff"/>
<circle cx="358.80" cy="206.43" r="2.1" fill="#0000ff"/>
<line x1="298.40" y1="184.47" x2="298.40" y2="187.33" stroke="#666" stroke-width="0.6" />
<line x1="297.30" y1="184.47" x2="299.50" y2="184.47" stroke="#666" stroke-width="0.6" />
<line x1="343.70" y1="166.69" x2="343.70" y2="170.13" stroke="#666" stroke-width="0.6" />
<line x1="342.60" y1="166.69" x2="344.80" y2="166.69" stroke="#666" stroke-width="0.6" />
<line x1="328.60" y1="167.84" x2="328.60" y2="169.56" stroke="#666" stroke-width="0.6" />
<line x1="327.50" y1="167.84" x2="329.70" y2="167.84" stroke="#666" stroke-width="0.6" />
<text x="334.20" y="176.79" font-size="6.4" text-anchor="middle" font-weight="bold" fill="#ff0000" style="stroke:#ff0000" >*</text>
<text x="344.30" y="181.31" font-size="7.2" text-anchor="middle" font-weight="normal" fill="#ff0000" style="stroke:#ff0000" >#</text>
<text x="344.30" y="193.35" font-size="7.2" text-anchor="middle" font-weight="normal" fill="#0000ff" style="stroke:#0000ff" >#</text>
<text x="362.40" y="204.31" font-size="6.4" text-anchor="middle" font-weight="bold" fill="#ff0000" style="stroke:#ff0000" >***</text>
<text transform="translate(368.00,228.20) scale(0.88,1)" font-size="10.8">nM</text>
<text transform="translate(86.50,265.50) scale(1.04,1.2)" font-size="9.6" text-anchor="middle" font-weight="bold">DBTRG05MG</text>
<line x1="35.10" y1="267.80" x2="35.10" y2="336.30" stroke="#888888" stroke-width="0.8" />
<line x1="32.90" y1="336.30" x2="35.10" y2="336.30" stroke="#888888" stroke-width="0.6" />
<text transform="translate(28.10,339.15) scale(0.82,1)" font-size="8.0" text-anchor="end">0</text>
<line x1="32.90" y1="324.97" x2="35.10" y2="324.97" stroke="#888888" stroke-width="0.6" />
<text transform="translate(28.10,327.82) scale(0.82,1)" font-size="8.0" text-anchor="end">20</text>
<line x1="32.90" y1="313.63" x2="35.10" y2="313.63" stroke="#888888" stroke-width="0.6" />
<text transform="translate(28.10,316.48) scale(0.82,1)" font-size="8.0" text-anchor="end">40</text>
<line x1="32.90" y1="302.30" x2="35.10" y2="302.30" stroke="#888888" stroke-width="0.6" />
<text transform="translate(28.10,305.15) scale(0.82,1)" font-size="8.0" text-anchor="end">60</text>
<line x1="32.90" y1="290.97" x2="35.10" y2="290.97" stroke="#888888" stroke-width="0.6" />
<text transform="translate(28.10,293.82) scale(0.82,1)" font-size="8.0" text-anchor="end">80</text>
<line x1="32.90" y1="279.63" x2="35.10" y2="279.63" stroke="#888888" stroke-width="0.6" />
<text transform="translate(28.10,282.48) scale(0.82,1)" font-size="8.0" text-anchor="end">100</text>
<line x1="32.90" y1="268.30" x2="35.10" y2="268.30" stroke="#888888" stroke-width="0.6" />
<text transform="translate(28.10,271.15) scale(0.82,1)" font-size="8.0" text-anchor="end">120</text>
<line x1="35.10" y1="336.30" x2="130.22" y2="336.30" stroke="#888888" stroke-width="0.8" />
<line x1="35.10" y1="336.30" x2="35.10" y2="338.30" stroke="#888888" stroke-width="0.6" />
<text transform="translate(36.40,345.50) scale(1,1.19) rotate(-45) scale(0.85,1)" font-size="7.3" text-anchor="end">0.0002</text>
<line x1="50.87" y1="336.30" x2="50.87" y2="338.30" stroke="#888888" stroke-width="0.6" />
<text transform="translate(52.17,345.50) scale(1,1.19) rotate(-45) scale(0.85,1)" font-size="7.3" text-anchor="end">0.002</text>
<line x1="66.64" y1="336.30" x2="66.64" y2="338.30" stroke="#888888" stroke-width="0.6" />
<text transform="translate(67.94,345.50) scale(1,1.19) rotate(-45) scale(0.85,1)" font-size="7.3" text-anchor="end">0.02</text>
<line x1="82.41" y1="336.30" x2="82.41" y2="338.30" stroke="#888888" stroke-width="0.6" />
<text transform="translate(83.71,345.50) scale(1,1.19) rotate(-45) scale(0.85,1)" font-size="7.3" text-anchor="end">0.2</text>
<line x1="98.18" y1="336.30" x2="98.18" y2="338.30" stroke="#888888" stroke-width="0.6" />
<text transform="translate(99.48,345.50) scale(1,1.19) rotate(-45) scale(0.85,1)" font-size="7.3" text-anchor="end">2</text>
<line x1="113.95" y1="336.30" x2="113.95" y2="338.30" stroke="#888888" stroke-width="0.6" />
<text transform="translate(115.25,345.50) scale(1,1.19) rotate(-45) scale(0.85,1)" font-size="7.3" text-anchor="end">20</text>
<line x1="129.72" y1="336.30" x2="129.72" y2="338.30" stroke="#888888" stroke-width="0.6" />
<text transform="translate(131.02,345.50) scale(1,1.19) rotate(-45) scale(0.85,1)" font-size="7.3" text-anchor="end">200</text>
<polyline points="35.10,279.63 50.87,281.33 66.64,280.20 82.41,283.60 98.18,281.90 113.95,283.60 129.72,286.43" fill="none" stroke="#0000ff" stroke-width="1.5" stroke-linejoin="round" stroke-dasharray="2.8,1.6"/>
<circle cx="35.10" cy="279.63" r="1.95" fill="#fff" stroke="#0000ff" stroke-width="1.05"/>
<circle cx="50.87" cy="281.33" r="1.95" fill="#fff" stroke="#0000ff" stroke-width="1.05"/>
<circle cx="66.64" cy="280.20" r="1.95" fill="#fff" stroke="#0000ff" stroke-width="1.05"/>
<circle cx="82.41" cy="283.60" r="1.95" fill="#fff" stroke="#0000ff" stroke-width="1.05"/>
<circle cx="98.18" cy="281.90" r="1.95" fill="#fff" stroke="#0000ff" stroke-width="1.05"/>
<circle cx="113.95" cy="283.60" r="1.95" fill="#fff" stroke="#0000ff" stroke-width="1.05"/>
<circle cx="129.72" cy="286.43" r="1.95" fill="#fff" stroke="#0000ff" stroke-width="1.05"/>
<polyline points="35.10,281.33 50.87,284.73 66.64,283.03 82.41,284.73 98.18,283.60 113.95,283.03 129.72,281.33" fill="none" stroke="#ff0000" stroke-width="1.5" stroke-linejoin="round" stroke-dasharray="2.8,1.6"/>
<circle cx="35.10" cy="281.33" r="1.95" fill="#fff" stroke="#ff0000" stroke-width="1.05"/>
<circle cx="50.87" cy="284.73" r="1.95" fill="#fff" stroke="#ff0000" stroke-width="1.05"/>
<circle cx="66.64" cy="283.03" r="1.95" fill="#fff" stroke="#ff0000" stroke-width="1.05"/>
<circle cx="82.41" cy="284.73" r="1.95" fill="#fff" stroke="#ff0000" stroke-width="1.05"/>
<circle cx="98.18" cy="283.60" r="1.95" fill="#fff" stroke="#ff0000" stroke-width="1.05"/>
<circle cx="113.95" cy="283.03" r="1.95" fill="#fff" stroke="#ff0000" stroke-width="1.05"/>
<circle cx="129.72" cy="281.33" r="1.95" fill="#fff" stroke="#ff0000" stroke-width="1.05"/>
<polyline points="35.10,279.63 50.87,285.87 66.64,296.07 82.41,323.66 98.18,327.52 113.95,328.25 129.72,328.59" fill="none" stroke="#000000" stroke-width="1.5" stroke-linejoin="round" />
<circle cx="35.10" cy="279.63" r="2.1" fill="#000000"/>
<circle cx="50.87" cy="285.87" r="2.1" fill="#000000"/>
<circle cx="66.64" cy="296.07" r="2.1" fill="#000000"/>
<circle cx="82.41" cy="323.66" r="2.1" fill="#000000"/>
<circle cx="98.18" cy="327.52" r="2.1" fill="#000000"/>
<circle cx="113.95" cy="328.25" r="2.1" fill="#000000"/>
<circle cx="129.72" cy="328.59" r="2.1" fill="#000000"/>
<polyline points="35.10,282.47 50.87,285.87 66.64,285.87 82.41,291.76 98.18,306.83 113.95,310.35 129.72,321.57" fill="none" stroke="#ff0000" stroke-width="1.5" stroke-linejoin="round" />
<circle cx="35.10" cy="282.47" r="2.1" fill="#ff0000"/>
<circle cx="50.87" cy="285.87" r="2.1" fill="#ff0000"/>
<circle cx="66.64" cy="285.87" r="2.1" fill="#ff0000"/>
<circle cx="82.41" cy="291.76" r="2.1" fill="#ff0000"/>
<circle cx="98.18" cy="306.83" r="2.1" fill="#ff0000"/>
<circle cx="113.95" cy="310.35" r="2.1" fill="#ff0000"/>
<circle cx="129.72" cy="321.57" r="2.1" fill="#ff0000"/>
<polyline points="35.10,279.63 50.87,286.43 66.64,287.57 82.41,287.57 98.18,287.57 113.95,287.57 129.72,318.17" fill="none" stroke="#0000ff" stroke-width="1.5" stroke-linejoin="round" />
<circle cx="35.10" cy="279.63" r="2.1" fill="#0000ff"/>
<circle cx="50.87" cy="286.43" r="2.1" fill="#0000ff"/>
<circle cx="66.64" cy="287.57" r="2.1" fill="#0000ff"/>
<circle cx="82.41" cy="287.57" r="2.1" fill="#0000ff"/>
<circle cx="98.18" cy="287.57" r="2.1" fill="#0000ff"/>
<circle cx="113.95" cy="287.57" r="2.1" fill="#0000ff"/>
<circle cx="129.72" cy="318.17" r="2.1" fill="#0000ff"/>
<line x1="66.64" y1="277.37" x2="66.64" y2="280.20" stroke="#666" stroke-width="0.6" />
<line x1="65.54" y1="277.37" x2="67.74" y2="277.37" stroke="#666" stroke-width="0.6" />
<line x1="50.87" y1="280.20" x2="50.87" y2="281.90" stroke="#666" stroke-width="0.6" />
<line x1="49.77" y1="280.20" x2="51.97" y2="280.20" stroke="#666" stroke-width="0.6" />
<line x1="82.41" y1="281.33" x2="82.41" y2="283.60" stroke="#666" stroke-width="0.6" />
<line x1="81.31" y1="281.33" x2="83.51" y2="281.33" stroke="#666" stroke-width="0.6" />
<text x="86.91" y="293.70" font-size="7.2" text-anchor="middle" font-weight="normal" fill="#ff0000" style="stroke:#ff0000" >#</text>
<text x="82.71" y="300.39" font-size="7.2" text-anchor="middle" font-weight="normal" fill="#0000ff" style="stroke:#0000ff" >#</text>
<text x="97.88" y="305.50" font-size="6.4" text-anchor="middle" font-weight="bold" fill="#ff0000" style="stroke:#ff0000" >***</text>
<text x="97.88" y="314.51" font-size="6.4" text-anchor="middle" font-weight="bold" fill="#0000ff" style="stroke:#0000ff" >***</text>
<text x="114.15" y="309.69" font-size="6.4" text-anchor="middle" font-weight="bold" fill="#ff0000" style="stroke:#ff0000" >***</text>
<text x="114.15" y="318.59" font-size="6.4" text-anchor="middle" font-weight="bold" fill="#0000ff" style="stroke:#0000ff" >***</text>
<text x="129.72" y="317.40" font-size="6.4" text-anchor="middle" font-weight="bold" fill="#ff0000" style="stroke:#ff0000" >***</text>
<text transform="translate(204.30,263.70) scale(1.04,1.2)" font-size="9.6" text-anchor="middle" font-weight="bold">LN18</text>
<line x1="153.00" y1="269.80" x2="153.00" y2="335.90" stroke="#888888" stroke-width="0.8" />
<line x1="150.80" y1="335.90" x2="153.00" y2="335.90" stroke="#888888" stroke-width="0.6" />
<text transform="translate(146.00,338.75) scale(0.82,1)" font-size="8.0" text-anchor="end">0</text>
<line x1="150.80" y1="324.97" x2="153.00" y2="324.97" stroke="#888888" stroke-width="0.6" />
<text transform="translate(146.00,327.82) scale(0.82,1)" font-size="8.0" text-anchor="end">20</text>
<line x1="150.80" y1="314.03" x2="153.00" y2="314.03" stroke="#888888" stroke-width="0.6" />
<text transform="translate(146.00,316.88) scale(0.82,1)" font-size="8.0" text-anchor="end">40</text>
<line x1="150.80" y1="303.10" x2="153.00" y2="303.10" stroke="#888888" stroke-width="0.6" />
<text transform="translate(146.00,305.95) scale(0.82,1)" font-size="8.0" text-anchor="end">60</text>
<line x1="150.80" y1="292.17" x2="153.00" y2="292.17" stroke="#888888" stroke-width="0.6" />
<text transform="translate(146.00,295.02) scale(0.82,1)" font-size="8.0" text-anchor="end">80</text>
<line x1="150.80" y1="281.23" x2="153.00" y2="281.23" stroke="#888888" stroke-width="0.6" />
<text transform="translate(146.00,284.08) scale(0.82,1)" font-size="8.0" text-anchor="end">100</text>
<line x1="150.80" y1="270.30" x2="153.00" y2="270.30" stroke="#888888" stroke-width="0.6" />
<text transform="translate(146.00,273.15) scale(0.82,1)" font-size="8.0" text-anchor="end">120</text>
<line x1="153.00" y1="335.90" x2="243.98" y2="335.90" stroke="#888888" stroke-width="0.8" />
<line x1="153.00" y1="335.90" x2="153.00" y2="337.90" stroke="#888888" stroke-width="0.6" />
<text transform="translate(154.30,345.10) scale(1,1.19) rotate(-45) scale(0.85,1)" font-size="7.3" text-anchor="end">0.0002</text>
<line x1="168.08" y1="335.90" x2="168.08" y2="337.90" stroke="#888888" stroke-width="0.6" />
<text transform="translate(169.38,345.10) scale(1,1.19) rotate(-45) scale(0.85,1)" font-size="7.3" text-anchor="end">0.002</text>
<line x1="183.16" y1="335.90" x2="183.16" y2="337.90" stroke="#888888" stroke-width="0.6" />
<text transform="translate(184.46,345.10) scale(1,1.19) rotate(-45) scale(0.85,1)" font-size="7.3" text-anchor="end">0.02</text>
<line x1="198.24" y1="335.90" x2="198.24" y2="337.90" stroke="#888888" stroke-width="0.6" />
<text transform="translate(199.54,345.10) scale(1,1.19) rotate(-45) scale(0.85,1)" font-size="7.3" text-anchor="end">0.2</text>
<line x1="213.32" y1="335.90" x2="213.32" y2="337.90" stroke="#888888" stroke-width="0.6" />
<text transform="translate(214.62,345.10) scale(1,1.19) rotate(-45) scale(0.85,1)" font-size="7.3" text-anchor="end">2</text>
<line x1="228.40" y1="335.90" x2="228.40" y2="337.90" stroke="#888888" stroke-width="0.6" />
<text transform="translate(229.70,345.10) scale(1,1.19) rotate(-45) scale(0.85,1)" font-size="7.3" text-anchor="end">20</text>
<line x1="243.48" y1="335.90" x2="243.48" y2="337.90" stroke="#888888" stroke-width="0.6" />
<text transform="translate(244.78,345.10) scale(1,1.19) rotate(-45) scale(0.85,1)" font-size="7.3" text-anchor="end">200</text>
<polyline points="153.00,280.69 168.08,281.23 183.16,286.81 198.24,290.31 213.32,291.07 228.40,290.31 243.48,295.45" fill="none" stroke="#0000ff" stroke-width="1.5" stroke-linejoin="round" stroke-dasharray="2.8,1.6"/>
<circle cx="153.00" cy="280.69" r="1.95" fill="#fff" stroke="#0000ff" stroke-width="1.05"/>
<circle cx="168.08" cy="281.23" r="1.95" fill="#fff" stroke="#0000ff" stroke-width="1.05"/>
<circle cx="183.16" cy="286.81" r="1.95" fill="#fff" stroke="#0000ff" stroke-width="1.05"/>
<circle cx="198.24" cy="290.31" r="1.95" fill="#fff" stroke="#0000ff" stroke-width="1.05"/>
<circle cx="213.32" cy="291.07" r="1.95" fill="#fff" stroke="#0000ff" stroke-width="1.05"/>
<circle cx="228.40" cy="290.31" r="1.95" fill="#fff" stroke="#0000ff" stroke-width="1.05"/>
<circle cx="243.48" cy="295.45" r="1.95" fill="#fff" stroke="#0000ff" stroke-width="1.05"/>
<polyline points="153.00,283.26 168.08,291.35 183.16,291.35 198.24,292.17 213.32,293.81 228.40,290.31 243.48,285.06" fill="none" stroke="#ff0000" stroke-width="1.5" stroke-linejoin="round" stroke-dasharray="2.8,1.6"/>
<circle cx="153.00" cy="283.26" r="1.95" fill="#fff" stroke="#ff0000" stroke-width="1.05"/>
<circle cx="168.08" cy="291.35" r="1.95" fill="#fff" stroke="#ff0000" stroke-width="1.05"/>
<circle cx="183.16" cy="291.35" r="1.95" fill="#fff" stroke="#ff0000" stroke-width="1.05"/>
<circle cx="198.24" cy="292.17" r="1.95" fill="#fff" stroke="#ff0000" stroke-width="1.05"/>
<circle cx="213.32" cy="293.81" r="1.95" fill="#fff" stroke="#ff0000" stroke-width="1.05"/>
<circle cx="228.40" cy="290.31" r="1.95" fill="#fff" stroke="#ff0000" stroke-width="1.05"/>
<circle cx="243.48" cy="285.06" r="1.95" fill="#fff" stroke="#ff0000" stroke-width="1.05"/>
<polyline points="153.00,285.06 168.08,286.70 183.16,286.70 198.24,292.17 213.32,322.56 228.40,328.90 243.48,331.36" fill="none" stroke="#000000" stroke-width="1.5" stroke-linejoin="round" />
<circle cx="153.00" cy="285.06" r="2.1" fill="#000000"/>
<circle cx="168.08" cy="286.70" r="2.1" fill="#000000"/>
<circle cx="183.16" cy="286.70" r="2.1" fill="#000000"/>
<circle cx="198.24" cy="292.17" r="2.1" fill="#000000"/>
<circle cx="213.32" cy="322.56" r="2.1" fill="#000000"/>
<circle cx="228.40" cy="328.90" r="2.1" fill="#000000"/>
<circle cx="243.48" cy="331.36" r="2.1" fill="#000000"/>
<polyline points="153.00,289.43 168.08,293.81 183.16,294.35 198.24,295.23 213.32,288.18 228.40,285.72 243.48,289.98" fill="none" stroke="#ff0000" stroke-width="1.5" stroke-linejoin="round" />
<circle cx="153.00" cy="289.43" r="2.1" fill="#ff0000"/>
<circle cx="168.08" cy="293.81" r="2.1" fill="#ff0000"/>
<circle cx="183.16" cy="294.35" r="2.1" fill="#ff0000"/>
<circle cx="198.24" cy="295.23" r="2.1" fill="#ff0000"/>
<circle cx="213.32" cy="288.18" r="2.1" fill="#ff0000"/>
<circle cx="228.40" cy="285.72" r="2.1" fill="#ff0000"/>
<circle cx="243.48" cy="289.98" r="2.1" fill="#ff0000"/>
<polyline points="153.00,282.33 168.08,286.81 183.16,286.81 198.24,291.07 213.32,290.31 228.40,289.60 243.48,293.81" fill="none" stroke="#0000ff" stroke-width="1.5" stroke-linejoin="round" />
<circle cx="153.00" cy="282.33" r="2.1" fill="#0000ff"/>
<circle cx="168.08" cy="286.81" r="2.1" fill="#0000ff"/>
<circle cx="183.16" cy="286.81" r="2.1" fill="#0000ff"/>
<circle cx="198.24" cy="291.07" r="2.1" fill="#0000ff"/>
<circle cx="213.32" cy="290.31" r="2.1" fill="#0000ff"/>
<circle cx="228.40" cy="289.60" r="2.1" fill="#0000ff"/>
<circle cx="243.48" cy="293.81" r="2.1" fill="#0000ff"/>
<line x1="153.00" y1="279.05" x2="153.00" y2="280.69" stroke="#666" stroke-width="0.6" />
<line x1="151.90" y1="279.05" x2="154.10" y2="279.05" stroke="#666" stroke-width="0.6" />
<line x1="183.16" y1="282.87" x2="183.16" y2="286.70" stroke="#666" stroke-width="0.6" />
<line x1="182.06" y1="282.87" x2="184.26" y2="282.87" stroke="#666" stroke-width="0.6" />
<line x1="198.24" y1="282.87" x2="198.24" y2="289.98" stroke="#666" stroke-width="0.6" />
<line x1="197.14" y1="282.87" x2="199.34" y2="282.87" stroke="#666" stroke-width="0.6" />
<line x1="213.32" y1="282.87" x2="213.32" y2="288.34" stroke="#666" stroke-width="0.6" />
<line x1="212.22" y1="282.87" x2="214.42" y2="282.87" stroke="#666" stroke-width="0.6" />
<line x1="228.40" y1="282.87" x2="228.40" y2="286.15" stroke="#666" stroke-width="0.6" />
<line x1="227.30" y1="282.87" x2="229.50" y2="282.87" stroke="#666" stroke-width="0.6" />
<line x1="243.48" y1="282.87" x2="243.48" y2="285.61" stroke="#666" stroke-width="0.6" />
<line x1="242.38" y1="282.87" x2="244.58" y2="282.87" stroke="#666" stroke-width="0.6" />
<text transform="translate(319.70,263.50) scale(1.04,1.2)" font-size="9.6" text-anchor="middle" font-weight="bold">U251MG</text>
<line x1="268.20" y1="269.80" x2="268.20" y2="336.60" stroke="#888888" stroke-width="0.8" />
<line x1="266.00" y1="336.60" x2="268.20" y2="336.60" stroke="#888888" stroke-width="0.6" />
<text transform="translate(261.20,339.45) scale(0.82,1)" font-size="8.0" text-anchor="end">0</text>
<line x1="266.00" y1="325.55" x2="268.20" y2="325.55" stroke="#888888" stroke-width="0.6" />
<text transform="translate(261.20,328.40) scale(0.82,1)" font-size="8.0" text-anchor="end">20</text>
<line x1="266.00" y1="314.50" x2="268.20" y2="314.50" stroke="#888888" stroke-width="0.6" />
<text transform="translate(261.20,317.35) scale(0.82,1)" font-size="8.0" text-anchor="end">40</text>
<line x1="266.00" y1="303.45" x2="268.20" y2="303.45" stroke="#888888" stroke-width="0.6" />
<text transform="translate(261.20,306.30) scale(0.82,1)" font-size="8.0" text-anchor="end">60</text>
<line x1="266.00" y1="292.40" x2="268.20" y2="292.40" stroke="#888888" stroke-width="0.6" />
<text transform="translate(261.20,295.25) scale(0.82,1)" font-size="8.0" text-anchor="end">80</text>
<line x1="266.00" y1="281.35" x2="268.20" y2="281.35" stroke="#888888" stroke-width="0.6" />
<text transform="translate(261.20,284.20) scale(0.82,1)" font-size="8.0" text-anchor="end">100</text>
<line x1="266.00" y1="270.30" x2="268.20" y2="270.30" stroke="#888888" stroke-width="0.6" />
<text transform="translate(261.20,273.15) scale(0.82,1)" font-size="8.0" text-anchor="end">120</text>
<line x1="268.20" y1="336.60" x2="358.10" y2="336.60" stroke="#888888" stroke-width="0.8" />
<line x1="268.20" y1="336.60" x2="268.20" y2="338.60" stroke="#888888" stroke-width="0.6" />
<text transform="translate(269.50,345.80) scale(1,1.19) rotate(-45) scale(0.85,1)" font-size="7.3" text-anchor="end">0.0002</text>
<line x1="283.10" y1="336.60" x2="283.10" y2="338.60" stroke="#888888" stroke-width="0.6" />
<text transform="translate(284.40,345.80) scale(1,1.19) rotate(-45) scale(0.85,1)" font-size="7.3" text-anchor="end">0.002</text>
<line x1="298.00" y1="336.60" x2="298.00" y2="338.60" stroke="#888888" stroke-width="0.6" />
<text transform="translate(299.30,345.80) scale(1,1.19) rotate(-45) scale(0.85,1)" font-size="7.3" text-anchor="end">0.02</text>
<line x1="312.90" y1="336.60" x2="312.90" y2="338.60" stroke="#888888" stroke-width="0.6" />
<text transform="translate(314.20,345.80) scale(1,1.19) rotate(-45) scale(0.85,1)" font-size="7.3" text-anchor="end">0.2</text>
<line x1="327.80" y1="336.60" x2="327.80" y2="338.60" stroke="#888888" stroke-width="0.6" />
<text transform="translate(329.10,345.80) scale(1,1.19) rotate(-45) scale(0.85,1)" font-size="7.3" text-anchor="end">2</text>
<line x1="342.70" y1="336.60" x2="342.70" y2="338.60" stroke="#888888" stroke-width="0.6" />
<text transform="translate(344.00,345.80) scale(1,1.19) rotate(-45) scale(0.85,1)" font-size="7.3" text-anchor="end">20</text>
<line x1="357.60" y1="336.60" x2="357.60" y2="338.60" stroke="#888888" stroke-width="0.6" />
<text transform="translate(358.90,345.80) scale(1,1.19) rotate(-45) scale(0.85,1)" font-size="7.3" text-anchor="end">200</text>
<polyline points="268.20,280.47 283.10,279.69 298.00,280.47 312.90,279.69 327.80,280.47 342.70,280.47 357.60,280.80" fill="none" stroke="#0000ff" stroke-width="1.5" stroke-linejoin="round" stroke-dasharray="2.8,1.6"/>
<circle cx="268.20" cy="280.47" r="1.95" fill="#fff" stroke="#0000ff" stroke-width="1.05"/>
<circle cx="283.10" cy="279.69" r="1.95" fill="#fff" stroke="#0000ff" stroke-width="1.05"/>
<circle cx="298.00" cy="280.47" r="1.95" fill="#fff" stroke="#0000ff" stroke-width="1.05"/>
<circle cx="312.90" cy="279.69" r="1.95" fill="#fff" stroke="#0000ff" stroke-width="1.05"/>
<circle cx="327.80" cy="280.47" r="1.95" fill="#fff" stroke="#0000ff" stroke-width="1.05"/>
<circle cx="342.70" cy="280.47" r="1.95" fill="#fff" stroke="#0000ff" stroke-width="1.05"/>
<circle cx="357.60" cy="280.80" r="1.95" fill="#fff" stroke="#0000ff" stroke-width="1.05"/>
<polyline points="268.20,281.90 283.10,281.90 298.00,281.90 312.90,281.90 327.80,281.90 342.70,281.90 357.60,281.52" fill="none" stroke="#ff0000" stroke-width="1.5" stroke-linejoin="round" stroke-dasharray="2.8,1.6"/>
<circle cx="268.20" cy="281.90" r="1.95" fill="#fff" stroke="#ff0000" stroke-width="1.05"/>
<circle cx="283.10" cy="281.90" r="1.95" fill="#fff" stroke="#ff0000" stroke-width="1.05"/>
<circle cx="298.00" cy="281.90" r="1.95" fill="#fff" stroke="#ff0000" stroke-width="1.05"/>
<circle cx="312.90" cy="281.90" r="1.95" fill="#fff" stroke="#ff0000" stroke-width="1.05"/>
<circle cx="327.80" cy="281.90" r="1.95" fill="#fff" stroke="#ff0000" stroke-width="1.05"/>
<circle cx="342.70" cy="281.90" r="1.95" fill="#fff" stroke="#ff0000" stroke-width="1.05"/>
<circle cx="357.60" cy="281.52" r="1.95" fill="#fff" stroke="#ff0000" stroke-width="1.05"/>
<polyline points="268.20,281.52 283.10,281.52 298.00,281.52 312.90,286.10 327.80,312.40 342.70,326.43 357.60,326.43" fill="none" stroke="#000000" stroke-width="1.5" stroke-linejoin="round" />
<circle cx="268.20" cy="281.52" r="2.1" fill="#000000"/>
<circle cx="283.10" cy="281.52" r="2.1" fill="#000000"/>
<circle cx="298.00" cy="281.52" r="2.1" fill="#000000"/>
<circle cx="312.90" cy="286.10" r="2.1" fill="#000000"/>
<circle cx="327.80" cy="312.40" r="2.1" fill="#000000"/>
<circle cx="342.70" cy="326.43" r="2.1" fill="#000000"/>
<circle cx="357.60" cy="326.43" r="2.1" fill="#000000"/>
<polyline points="268.20,282.23 283.10,282.23 298.00,282.23 312.90,282.23 327.80,282.23 342.70,282.57 357.60,286.88" fill="none" stroke="#ff0000" stroke-width="1.5" stroke-linejoin="round" />
<circle cx="268.20" cy="282.23" r="2.1" fill="#ff0000"/>
<circle cx="283.10" cy="282.23" r="2.1" fill="#ff0000"/>
<circle cx="298.00" cy="282.23" r="2.1" fill="#ff0000"/>
<circle cx="312.90" cy="282.23" r="2.1" fill="#ff0000"/>
<circle cx="327.80" cy="282.23" r="2.1" fill="#ff0000"/>
<circle cx="342.70" cy="282.57" r="2.1" fill="#ff0000"/>
<circle cx="357.60" cy="286.88" r="2.1" fill="#ff0000"/>
<polyline points="268.20,280.80 283.10,280.80 298.00,280.80 312.90,280.80 327.80,280.80 342.70,282.23 357.60,289.25" fill="none" stroke="#0000ff" stroke-width="1.5" stroke-linejoin="round" />
<circle cx="268.20" cy="280.80" r="2.1" fill="#0000ff"/>
<circle cx="283.10" cy="280.80" r="2.1" fill="#0000ff"/>
<circle cx="298.00" cy="280.80" r="2.1" fill="#0000ff"/>
<circle cx="312.90" cy="280.80" r="2.1" fill="#0000ff"/>
<circle cx="327.80" cy="280.80" r="2.1" fill="#0000ff"/>
<circle cx="342.70" cy="282.23" r="2.1" fill="#0000ff"/>
<circle cx="357.60" cy="289.25" r="2.1" fill="#0000ff"/>
<text transform="translate(368.00,341.50) scale(0.88,1)" font-size="10.8">nM</text>
<rect x="22.3" y="368.9" width="347.3" height="20.2" fill="none" stroke="#666" stroke-width="0.9"/>
<line x1="26.90" y1="379.60" x2="42.10" y2="379.60" stroke="#0000ff" stroke-width="1.6" />
<line x1="45.10" y1="379.60" x2="47.10" y2="379.60" stroke="#0000ff" stroke-width="1.6" />
<circle cx="36.70" cy="379.6" r="2.7" fill="#fff" stroke="#0000ff" stroke-width="1.5"/>
<text x="49.60" y="382.70" font-size="8.7" text-anchor="start" font-weight="normal" fill="#000" >control</text>
<line x1="91.30" y1="379.60" x2="106.60" y2="379.60" stroke="#ff0000" stroke-width="1.6" />
<line x1="109.60" y1="379.60" x2="111.60" y2="379.60" stroke="#ff0000" stroke-width="1.6" />
<circle cx="101.10" cy="379.6" r="2.7" fill="#fff" stroke="#ff0000" stroke-width="1.5"/>
<text x="113.90" y="382.70" font-size="8.7" text-anchor="start" font-weight="normal" fill="#000" >0614-5</text>
<line x1="153.30" y1="379.60" x2="173.60" y2="379.60" stroke="#0000ff" stroke-width="1.7" />
<circle cx="163.45" cy="379.6" r="3.3" fill="#0000ff"/>
<text x="176.40" y="382.70" font-size="8.7" text-anchor="start" font-weight="normal" fill="#000" >control-ADC</text>
<line x1="233.30" y1="379.60" x2="254.10" y2="379.60" stroke="#ff0000" stroke-width="1.7" />
<circle cx="243.70" cy="379.6" r="3.3" fill="#ff0000"/>
<text x="257.40" y="382.70" font-size="8.7" text-anchor="start" font-weight="normal" fill="#000" >0614-5-ADC</text>
<line x1="312.30" y1="379.60" x2="333.90" y2="379.60" stroke="#000000" stroke-width="1.7" />
<circle cx="323.10" cy="379.6" r="3.3" fill="#000000"/>
<text x="337.20" y="382.70" font-size="8.7" text-anchor="start" font-weight="normal" fill="#000" >MMAE</text>
<text x="5.60" y="410.20" font-size="12.5" text-anchor="start" font-weight="normal" fill="#000" >D</text>
<line x1="22.80" y1="412.80" x2="22.80" y2="544.60" stroke="#222" stroke-width="0.8" />
<line x1="91.30" y1="412.80" x2="91.30" y2="544.60" stroke="#222" stroke-width="0.8" />
<line x1="150.40" y1="412.80" x2="150.40" y2="544.60" stroke="#222" stroke-width="0.8" />
<line x1="219.20" y1="412.80" x2="219.20" y2="544.60" stroke="#222" stroke-width="0.8" />
<line x1="287.60" y1="412.80" x2="287.60" y2="544.60" stroke="#222" stroke-width="0.8" />
<line x1="360.00" y1="412.80" x2="360.00" y2="544.60" stroke="#222" stroke-width="0.8" />
<line x1="22.80" y1="412.80" x2="360.00" y2="412.80" stroke="#222" stroke-width="0.8" />
<line x1="22.80" y1="450.40" x2="360.00" y2="450.40" stroke="#222" stroke-width="0.8" />
<line x1="22.80" y1="466.10" x2="360.00" y2="466.10" stroke="#222" stroke-width="0.8" />
<line x1="22.80" y1="481.80" x2="360.00" y2="481.80" stroke="#222" stroke-width="0.8" />
<line x1="22.80" y1="497.60" x2="360.00" y2="497.60" stroke="#222" stroke-width="0.8" />
<line x1="22.80" y1="513.20" x2="360.00" y2="513.20" stroke="#222" stroke-width="0.8" />
<line x1="22.80" y1="528.90" x2="360.00" y2="528.90" stroke="#222" stroke-width="0.8" />
<line x1="22.80" y1="544.60" x2="360.00" y2="544.60" stroke="#222" stroke-width="0.8" />
<text x="28.30" y="424.40" font-size="8.6" text-anchor="start" font-weight="normal" fill="#000" >Cell lines</text>
<text x="96.80" y="424.40" font-size="8.6" text-anchor="start" font-weight="normal" fill="#000" >mRNA</text>
<text x="96.80" y="434.80" font-size="8.6" text-anchor="start" font-weight="normal" fill="#000" >expression</text>
<text x="96.80" y="445.20" font-size="8.6" text-anchor="start" font-weight="normal" fill="#000" >of CD73</text>
<text x="155.90" y="424.40" font-size="8.6" text-anchor="start" font-weight="normal" fill="#000" >Protein</text>
<text x="155.90" y="434.80" font-size="8.6" text-anchor="start" font-weight="normal" fill="#000" >expression of</text>
<text x="155.90" y="445.20" font-size="8.6" text-anchor="start" font-weight="normal" fill="#000" >CD73 (MFI)</text>
<text x="224.70" y="424.40" font-size="8.6" text-anchor="start" font-weight="normal" fill="#000" >IC50 of MMAE</text>
<text x="224.70" y="434.80" font-size="8.6" text-anchor="start" font-weight="normal" fill="#000" >(nM)</text>
<text x="293.10" y="424.40" font-size="8.6" text-anchor="start" font-weight="normal" fill="#000" >IC50 of</text>
<text x="293.10" y="434.80" font-size="8.6" text-anchor="start" font-weight="normal" fill="#000" >0614-5-ADC</text>
<text x="293.10" y="445.20" font-size="8.6" text-anchor="start" font-weight="normal" fill="#000" >(nM)</text>
<text x="28.30" y="461.35" font-size="8.6" text-anchor="start" font-weight="normal" fill="#000" >U118MG</text>
<text x="96.80" y="461.35" font-size="8.6" text-anchor="start" font-weight="normal" fill="#000" >1576</text>
<text x="155.90" y="461.35" font-size="8.6" text-anchor="start" font-weight="normal" fill="#000" >3510</text>
<text x="224.70" y="461.35" font-size="8.6">0.18<tspan dx="1.9" font-size="7.6" fill="#333" style="stroke:#333;stroke-width:0.05px">±</tspan><tspan dx="2.0">0.01</tspan></text>
<text x="293.10" y="461.35" font-size="8.6">1.03<tspan dx="1.9" font-size="7.6" fill="#333" style="stroke:#333;stroke-width:0.05px">±</tspan><tspan dx="2.0">0.24</tspan></text>
<text x="28.30" y="477.05" font-size="8.6" text-anchor="start" font-weight="normal" fill="#000" >U87MG</text>
<text x="96.80" y="477.05" font-size="8.6" text-anchor="start" font-weight="normal" fill="#000" >718</text>
<text x="155.90" y="477.05" font-size="8.6" text-anchor="start" font-weight="normal" fill="#000" >691</text>
<text x="224.70" y="477.05" font-size="8.6">0.13<tspan dx="1.9" font-size="7.6" fill="#333" style="stroke:#333;stroke-width:0.05px">±</tspan><tspan dx="2.0">0.01</tspan></text>
<text x="293.10" y="477.05" font-size="8.6">1.63<tspan dx="1.9" font-size="7.6" fill="#333" style="stroke:#333;stroke-width:0.05px">±</tspan><tspan dx="2.0">0.24</tspan></text>
<text x="28.30" y="492.80" font-size="8.6" text-anchor="start" font-weight="normal" fill="#000" >LN229</text>
<text x="96.80" y="492.80" font-size="8.6" text-anchor="start" font-weight="normal" fill="#000" >149</text>
<text x="155.90" y="492.80" font-size="8.6" text-anchor="start" font-weight="normal" fill="#000" >636</text>
<text x="224.70" y="492.80" font-size="8.6">0.09<tspan dx="1.9" font-size="7.6" fill="#333" style="stroke:#333;stroke-width:0.05px">±</tspan><tspan dx="2.0">0.02</tspan></text>
<text x="293.10" y="492.80" font-size="8.6">113.66<tspan dx="1.9" font-size="7.6" fill="#333" style="stroke:#333;stroke-width:0.05px">±</tspan><tspan dx="2.0">15.22</tspan></text>
<text x="28.30" y="508.50" font-size="8.6" text-anchor="start" font-weight="normal" fill="#000" >DBTRG05MG</text>
<text x="96.80" y="508.50" font-size="8.6" text-anchor="start" font-weight="normal" fill="#000" >89</text>
<text x="155.90" y="508.50" font-size="8.6" text-anchor="start" font-weight="normal" fill="#000" >32.1</text>
<text x="224.70" y="508.50" font-size="8.6">0.10<tspan dx="1.9" font-size="7.6" fill="#333" style="stroke:#333;stroke-width:0.05px">±</tspan><tspan dx="2.0">0.01</tspan></text>
<text x="293.10" y="508.50" font-size="8.6">3.31<tspan dx="1.9" font-size="7.6" fill="#333" style="stroke:#333;stroke-width:0.05px">±</tspan><tspan dx="2.0">11.87</tspan></text>
<text x="28.30" y="524.15" font-size="8.6" text-anchor="start" font-weight="normal" fill="#000" >LN18</text>
<text x="96.80" y="524.15" font-size="8.6" text-anchor="start" font-weight="normal" fill="#000" >56</text>
<text x="155.90" y="524.15" font-size="8.6" text-anchor="start" font-weight="normal" fill="#000" >470</text>
<text x="224.70" y="524.15" font-size="8.6">1.09<tspan dx="1.9" font-size="7.6" fill="#333" style="stroke:#333;stroke-width:0.05px">±</tspan><tspan dx="2.0">0.15</tspan></text>
<text x="293.10" y="524.15" font-size="8.6" text-anchor="start" font-weight="normal" fill="#000" >-</text>
<text x="28.30" y="539.85" font-size="8.6" text-anchor="start" font-weight="normal" fill="#000" >U251MG</text>
<text x="96.80" y="539.85" font-size="8.6" text-anchor="start" font-weight="normal" fill="#000" >4</text>
<text x="155.90" y="539.85" font-size="8.6" text-anchor="start" font-weight="normal" fill="#000" >109</text>
<text x="224.70" y="539.85" font-size="8.6">1.77<tspan dx="1.9" font-size="7.6" fill="#333" style="stroke:#333;stroke-width:0.05px">±</tspan><tspan dx="2.0">0.15</tspan></text>
<text x="293.10" y="539.85" font-size="8.6" text-anchor="start" font-weight="normal" fill="#000" >-</text>
</svg>
</body></html>
